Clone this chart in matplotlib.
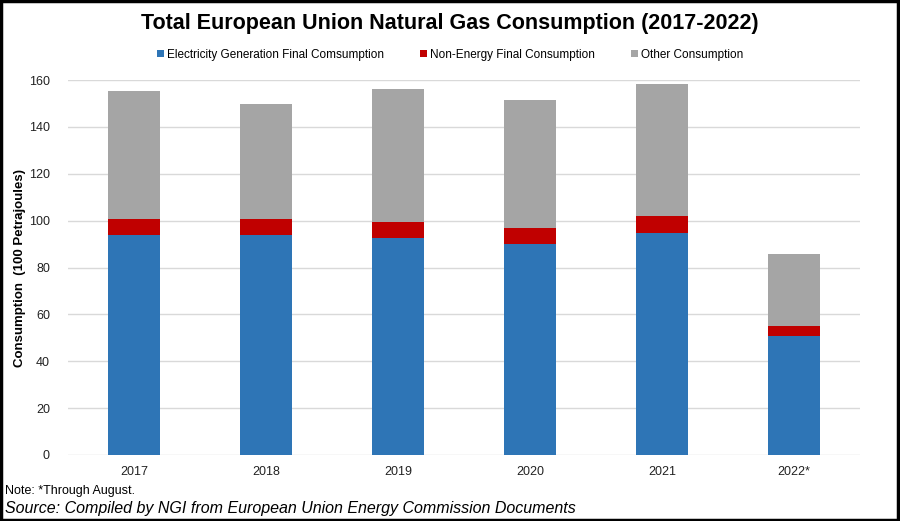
import matplotlib
matplotlib.use("Agg")
import matplotlib.pyplot as plt
from matplotlib.patches import Rectangle
import numpy as np

years = ["2017", "2018", "2019", "2020", "2021", "2022*"]
electricity = [93.9, 93.9, 92.4, 90.2, 94.7, 50.9]
non_energy = [6.8, 6.8, 7.1, 6.8, 7.4, 4.3]
other = [54.5, 48.9, 56.6, 54.6, 56.0, 30.4]

series_names = ["Electricity Generation Final Comsumption", "Non-Energy Final Consumption", "Other Consumption"]
colors = ["#2E75B6", "#C00000", "#A5A5A5"]

plt.rcParams["font.family"] = ["Liberation Sans", "DejaVu Sans"]

fig = plt.figure(figsize=(9, 5.21), dpi=100)
ax = fig.add_axes([0.0756, 0.1267, 0.88, 0.7197])

x = np.arange(len(years))
bottom = np.zeros(len(years))
for vals, name, c in zip([electricity, non_energy, other], series_names, colors):
    ax.bar(x, vals, bottom=bottom, width=0.395, color=c, label=name, zorder=3)
    bottom += np.array(vals)

ax.set_xlim(-0.5, len(years) - 0.5)
ax.set_ylim(0, 160)
ax.set_yticks(range(0, 161, 20))
ax.set_xticks(x)
ax.set_xticklabels(years)
ax.tick_params(axis="both", length=0, labelsize=9, colors="#222222")
ax.tick_params(axis="y", pad=13)
ax.tick_params(axis="x", pad=8)
ax.grid(axis="y", color="#D9D9D9", linewidth=1, zorder=0)
for s in ax.spines.values():
    s.set_visible(False)
ax.set_ylabel("Consumption  (100 Petrajoules)", fontsize=9.5, fontweight="bold")
ax.yaxis.set_label_coords(-0.053, 0.5)

fig.text(0.5, 0.955, "Total European Union Natural Gas Consumption (2017-2022)",
         ha="center", va="center", fontsize=15.5, fontweight="bold")

handles, labels = ax.get_legend_handles_labels()
fig.legend(handles, labels, loc="center", bbox_to_anchor=(0.5, 0.895), ncol=3,
           frameon=False, fontsize=8.5, handlelength=0.6, handleheight=0.6,
           handletextpad=0.3, columnspacing=3.0)

fig.text(0.006, 0.058, "Note: *Through August.", fontsize=9, ha="left", va="center")
fig.text(0.006, 0.024, "Source: Compiled by NGI from European Union Energy Commission Documents",
         fontsize=11.5, style="italic", ha="left", va="center")

fig.patches.append(Rectangle((0.001, 0.002), 0.997, 0.996, transform=fig.transFigure,
                             fill=False, edgecolor="black", linewidth=2.5))

fig.savefig("out.png", dpi=100)
